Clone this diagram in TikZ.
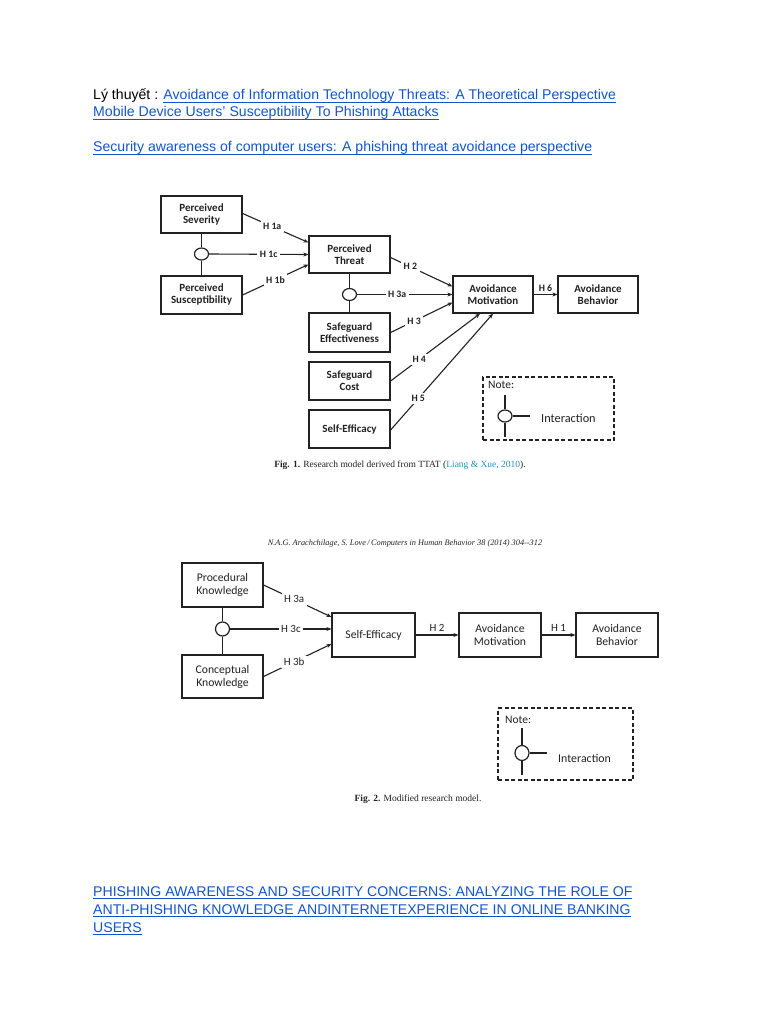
\documentclass[tikz,border=0pt]{standalone}
\usepackage{fontspec}
\setmainfont{Liberation Sans}
\newfontfamily\diagfont{Carlito}
\newfontfamily\capfont{Liberation Serif}
\usetikzlibrary{arrows.meta,shapes.geometric}
\definecolor{link}{HTML}{1155CC}
\definecolor{citeblue}{HTML}{2A8FBD}
\definecolor{ink}{HTML}{222222}
\newcommand\lnk[1]{\textcolor{link}{\setbox0\hbox{#1}\rlap{\rule[-2.6pt]{\wd0}{1pt}}\box0}}
\tikzset{
  txt/.style={inner sep=0pt, anchor=base west, font=\fontsize{14.1}{17}\selectfont},
  boxa/.style={draw=ink, line width=1.2pt, inner sep=0pt, align=center, text=ink,
    minimum width=81pt, minimum height=38pt, font=\diagfont\bfseries\fontsize{11}{12}\selectfont},
  boxb/.style={draw=ink, line width=1.2pt, inner sep=0pt, align=center, text=ink,
    minimum width=82pt, minimum height=44pt, font=\diagfont\fontsize{11.7}{13}\selectfont},
  knot/.style={draw=ink, line width=1.2pt, ellipse, inner sep=0pt, minimum width=14pt, minimum height=12pt},
  arr/.style={draw=ink, line width=1.1pt, -{Stealth[length=5pt,width=4pt]}},
  con/.style={draw=ink, line width=1.1pt},
  hla/.style={fill=white, inner sep=2.5pt, text=ink, font=\diagfont\bfseries\fontsize{9.8}{10}\selectfont},
  hlb/.style={fill=white, inner sep=2.5pt, text=ink, font=\diagfont\fontsize{11}{11}\selectfont},
  notebox/.style={draw=ink, line width=1.2pt, dash pattern=on 4pt off 2.5pt, inner sep=0pt},
  notetxt/.style={inner sep=0pt, anchor=base west, text=ink, font=\diagfont\fontsize{11.5}{12}\selectfont},
  captxt/.style={inner sep=0pt, anchor=base, text=ink, font=\capfont\fontsize{9.5}{11}\selectfont},
}
\begin{document}
\begin{tikzpicture}[x=1pt,y=-1pt]
\useasboundingbox[fill=white] (0,0) rectangle (768,1024);

% top text
\node[txt] (t1) at (93,100) {Lý thuyết : \lnk{Avoidance of Information Technology Threats: A Theoretical Perspective}};
\node[txt] (t2) at (93,117) {\lnk{Mobile Device Users' Susceptibility To Phishing Attacks}};
\node[txt] (t3) at (93,152) {\lnk{Security awareness of computer users: A phishing threat avoidance perspective}};

% ---------- Figure 1 ----------
\node[boxa, minimum height=37pt] (ps) at (201.5,214.5) {Perceived\\Severity};
\node[boxa] (psu) at (201.5,295) {Perceived\\Susceptibility};
\node[boxa, minimum height=37pt] (pt) at (349.5,254.5) {Perceived\\Threat};
\node[boxa, minimum height=39pt] (se) at (349.5,332.5) {Safeguard\\Effectiveness};
\node[boxa] (sc) at (349.5,381) {Safeguard\\Cost};
\node[boxa] (sef) at (349.5,429) {Self-Efficacy};
\node[boxa, minimum width=80pt, minimum height=37pt] (am) at (493,294.5) {Avoidance\\Motivation};
\node[boxa, minimum width=80pt, minimum height=37pt] (ab) at (598,294.5) {Avoidance\\Behavior};
\node[knot] (c1) at (201.5,254) {};
\node[knot] (c2) at (349.5,294.5) {};

\draw[con] (ps.south) -- (c1.north);
\draw[con] (c1.south) -- (psu.north);
\draw[con] (pt.south) -- (c2.north);
\draw[con] (c2.south) -- (se.north);

\draw[arr] ([yshift=1]ps.east) -- node[hla, pos=0.45] {H 1a} ([yshift=12]pt.west);
\draw[arr] (c1.east) -- node[hla, pos=0.6] {H 1c} (pt.west);
\draw[arr] (psu.east) -- node[hla, pos=0.5] {H 1b} ([yshift=-10]pt.west);
\draw[arr] ([yshift=-3]pt.east) -- node[hla, pos=0.32] {H 2} ([yshift=8]am.west);
\draw[arr] (c2.east) -- node[hla, pos=0.42] {H 3a} (am.west);
\draw[arr] (se.east) -- node[hla, pos=0.38] {H 3} ([yshift=-8]am.west);
\draw[arr] (sc.east) -- node[hla, pos=0.32] {H 4} ([xshift=-13]am.south);
\draw[arr] ([yshift=-1]sef.east) -- node[hla, pos=0.27] {H 5} ([xshift=0]am.south);
\draw[arr] (am.east) -- node[hla, fill=none, inner sep=1pt, above=1pt] {H 6} (ab.west);

\node[notebox, minimum width=131pt, minimum height=63pt] (n1) at (548.5,408.5) {};
\node[notetxt] (n1t) at (488,388) {Note:};
\node[knot] (n1c) at (505,416) {};
\coordinate (n1a) at (505,395);
\coordinate (n1b) at (505,437);
\coordinate (n1r) at (530,416);
\draw[con] (n1a) -- (n1c.north);
\draw[con] (n1c.south) -- (n1b);
\draw[con] (n1c.east) -- (n1r);
\node[notetxt, font=\diagfont\fontsize{12.3}{12}\selectfont] (n1i) at (541,422) {Interaction};

\node[captxt] (cap1) at (400,467) {\textbf{Fig. 1.} Research model derived from TTAT (\textcolor{citeblue}{Liang \& Xue, 2010}).};

% ---------- Figure 2 ----------
\node[captxt, font=\capfont\itshape\fontsize{8.3}{9}\selectfont] (hdr) at (405,545) {N.A.G. Arachchilage, S. Love\,/\,Computers in Human Behavior 38 (2014) 304--312};

\node[boxb, minimum width=81pt] (pk) at (222.5,585) {Procedural\\Knowledge};
\node[boxb, minimum width=81pt, minimum height=43pt] (ck) at (222.5,676.5) {Conceptual\\Knowledge};
\node[boxb, minimum width=83pt] (se2) at (373.5,635) {Self-Efficacy};
\node[boxb] (am2) at (500,635) {Avoidance\\Motivation};
\node[boxb] (ab2) at (617,635) {Avoidance\\Behavior};
\node[knot, minimum width=14pt, minimum height=14pt] (c3) at (222.5,629) {};

\draw[con] (pk.south) -- (c3.north);
\draw[con] (c3.south) -- (ck.north);
\draw[arr] (pk.east) -- node[hlb, pos=0.45] {H 3a} ([yshift=18]se2.west);
\draw[arr] (c3.east) -- node[hlb, pos=0.6] {H 3c} (se2.west |- c3);
\draw[arr] (ck.east) -- node[hlb, pos=0.45] {H 3b} ([yshift=-9]se2.west);
\draw[arr] (se2.east) -- node[hlb, fill=none, inner sep=1pt, above=2pt] {H 2} (am2.west);
\draw[arr] (am2.east) -- node[hlb, fill=none, inner sep=1pt, above=2pt] {H 1} (ab2.west);

\node[notebox, minimum width=135pt, minimum height=72pt] (n2) at (565.5,744) {};
\node[notetxt] (n2t) at (505,723) {Note:};
\node[knot, minimum width=14pt, minimum height=15pt] (n2c) at (522,753) {};
\coordinate (n2a) at (522,728);
\coordinate (n2b) at (522,775);
\coordinate (n2r) at (547,753);
\draw[con] (n2a) -- (n2c.north);
\draw[con] (n2c.south) -- (n2b);
\draw[con] (n2c.east) -- (n2r);
\node[notetxt, font=\diagfont\fontsize{11.9}{12}\selectfont] (n2i) at (558,762) {Interaction};

\node[captxt] (cap2) at (418,801) {\textbf{Fig. 2.} Modified research model.};

% bottom text
\node[txt] (b1) at (93,896) {\lnk{PHISHING AWARENESS AND SECURITY CONCERNS: ANALYZING THE ROLE OF}};
\node[txt] (b2) at (93,914) {\lnk{ANTI-PHISHING KNOWLEDGE ANDINTERNETEXPERIENCE IN ONLINE BANKING}};
\node[txt] (b3) at (93,932) {\lnk{USERS}};
\end{tikzpicture}
\end{document}
